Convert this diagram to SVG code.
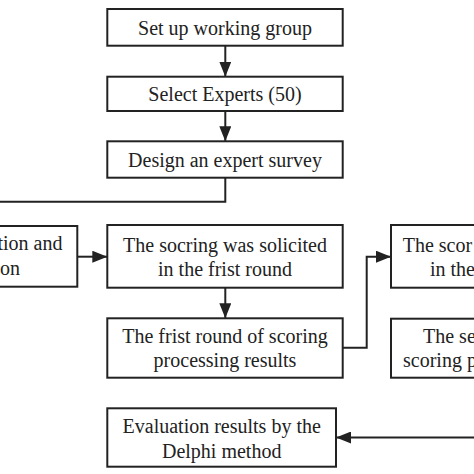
<svg xmlns="http://www.w3.org/2000/svg" width="474" height="474" viewBox="0 0 474 474">
<defs>
<style>
.box{fill:#fff;stroke:#222;stroke-width:2}
.t{font-family:"Liberation Serif","Times New Roman",serif;font-size:20px;fill:#222}
.c{text-anchor:middle}
.ln{fill:none;stroke:#222;stroke-width:2}
</style>
<marker id="ah" markerUnits="userSpaceOnUse" markerWidth="16" markerHeight="12" refX="15" refY="6" orient="auto">
<polygon points="0,0 15,6 0,12" fill="#222"/>
</marker>
</defs>
<rect width="474" height="474" fill="#fff"/>
<g id="connectors">
<line class="ln" x1="225.3" y1="45.7" x2="225.3" y2="76.7" marker-end="url(#ah)"/>
<line class="ln" x1="225.3" y1="111" x2="225.3" y2="141.3" marker-end="url(#ah)"/>
<polyline class="ln" points="225.3,177.7 225.3,201.7 -5,201.7"/>
<line class="ln" x1="77.3" y1="256.7" x2="107.3" y2="256.7" marker-end="url(#ah)"/>
<line class="ln" x1="225.3" y1="287.7" x2="225.3" y2="318.3" marker-end="url(#ah)"/>
<polyline class="ln" points="342.7,347.7 366.7,347.7 366.7,256.7 391,256.7" marker-end="url(#ah)"/>
<line class="ln" x1="480" y1="437.5" x2="336" y2="437.5" marker-end="url(#ah)"/>
</g>
<g id="n1"><rect class="box" x="107.3" y="9" width="235.4" height="36.7"/><text class="t c" x="225" y="34.5">Set up working group</text></g>
<g id="n2"><rect class="box" x="107.3" y="76.7" width="235.4" height="34.3"/><text class="t c" x="225" y="100.8">Select Experts (50)</text></g>
<g id="n3"><rect class="box" x="107.3" y="141.3" width="235.4" height="36.4"/><text class="t c" x="225" y="166.5">Design an expert survey</text></g>
<g id="n4"><rect class="box" x="-60" y="226" width="137.3" height="60.7"/><text class="t" x="62.5" y="250" text-anchor="end">tion and</text><text class="t" x="20" y="275" text-anchor="end">on</text></g>
<g id="n5"><rect class="box" x="107.3" y="225" width="235.4" height="62.7"/><text class="t c" x="225" y="251.7">The socring was solicited</text><text class="t c" x="225" y="276">in the frist round</text></g>
<g id="n6"><rect class="box" x="107.3" y="318.3" width="235.4" height="59.4"/><text class="t c" x="225" y="342.7">The frist round of scoring</text><text class="t c" x="225" y="367">processing results</text></g>
<g id="n7"><rect class="box" x="391" y="225" width="140" height="62.7"/><text class="t" x="402.7" y="251.7">The scor</text><text class="t" x="430" y="276">in the</text></g>
<g id="n8"><rect class="box" x="391" y="318.7" width="140" height="59"/><text class="t" x="423" y="342.7">The se</text><text class="t" x="403" y="367">scoring p</text></g>
<g id="n9"><rect class="box" x="107.3" y="408.3" width="228.7" height="58.4"/><text class="t c" x="221.7" y="432.7">Evaluation results by the</text><text class="t c" x="221.7" y="457.5">Delphi method</text></g>
</svg>
